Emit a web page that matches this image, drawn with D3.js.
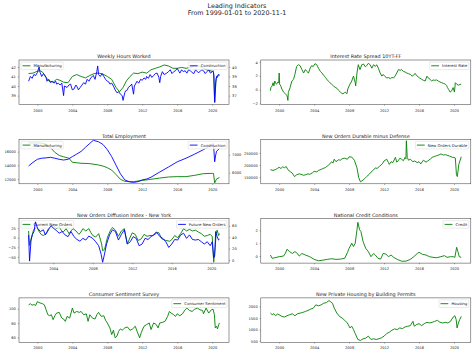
<!DOCTYPE html>
<html>
<head>
<meta charset="utf-8">
<script src="https://cdn.jsdelivr.net/npm/d3@7"></script>
<style>
  body { margin: 0; background: #fff; }
  svg { display: block; font-family: "DejaVu Sans", sans-serif; }
</style>
</head>
<body>
<svg id="chart" width="474" height="353"></svg>
<script>
// ---- data (year, value) ----
const yearTicks = [2000, 2004, 2008, 2012, 2016, 2020];
const yearTicksNY = [2004, 2008, 2012, 2016, 2020];

const hoursMfg = [[1999.0,41.3],[1999.5,41.35],[2000.0,41.55],[2000.3,41.6],[2000.6,41.45],[2000.9,41.0],[2001.3,40.55],[2001.8,40.4],[2002.2,40.7],[2002.6,40.6],[2003.0,40.4],[2003.5,40.35],[2004.0,41.0],[2004.5,41.2],[2005.0,41.0],[2005.5,40.85],[2006.0,41.1],[2006.5,41.3],[2007.0,41.35],[2007.5,41.25],[2008.0,41.0],[2008.5,40.7],[2009.0,39.85],[2009.4,39.4],[2009.8,39.85],[2010.2,40.55],[2010.6,41.0],[2011.0,41.35],[2011.5,41.3],[2012.0,41.45],[2012.5,41.35],[2013.0,41.7],[2013.5,41.85],[2014.0,42.0],[2014.5,42.2],[2015.0,42.1],[2015.5,41.85],[2016.0,41.85],[2016.5,41.95],[2017.0,41.85],[2017.5,41.95],[2018.0,42.1],[2018.5,42.1],[2019.0,41.85],[2019.5,41.65],[2020.0,41.55],[2020.15,41.4],[2020.28,38.3],[2020.45,40.8],[2020.6,41.1],[2020.83,41.2]];

const hoursConstruction = [[1999.0,38.5],[1999.2,39.0],[1999.4,38.8],[1999.6,39.2],[1999.8,39.1],[2000.0,39.4],[2000.2,40.0],[2000.3,39.45],[2000.5,39.0],[2000.7,39.3],[2000.8,39.2],[2001.0,38.9],[2001.1,38.5],[2001.3,38.7],[2001.5,38.35],[2001.7,38.5],[2001.9,38.3],[2002.1,38.5],[2002.2,38.2],[2002.4,38.3],[2002.6,38.1],[2002.8,38.3],[2003.0,37.0],[2003.1,38.0],[2003.4,37.85],[2003.6,38.1],[2003.8,38.2],[2004.0,37.6],[2004.2,37.7],[2004.4,38.1],[2004.5,38.0],[2004.7,37.6],[2004.9,37.85],[2005.1,38.1],[2005.3,38.35],[2005.5,38.2],[2005.7,38.7],[2005.9,38.5],[2006.1,38.85],[2006.3,39.0],[2006.4,39.1],[2006.6,38.7],[2006.8,39.5],[2006.9,40.1],[2007.0,39.2],[2007.2,39.0],[2007.4,39.3],[2007.6,39.0],[2007.8,38.7],[2008.0,38.5],[2008.2,38.4],[2008.3,38.2],[2008.5,38.3],[2008.7,38.0],[2008.9,37.6],[2009.1,37.3],[2009.3,37.4],[2009.5,37.15],[2009.7,37.0],[2009.8,36.5],[2010.0,37.3],[2010.1,37.5],[2010.3,37.6],[2010.4,37.85],[2010.6,38.0],[2010.8,38.2],[2011.0,37.15],[2011.1,38.0],[2011.4,38.5],[2011.6,38.3],[2011.8,38.7],[2012.0,38.6],[2012.2,38.85],[2012.4,38.7],[2012.5,39.0],[2012.7,38.8],[2012.9,39.2],[2013.1,38.9],[2013.3,39.1],[2013.5,39.3],[2013.7,39.35],[2013.9,38.9],[2014.0,38.35],[2014.1,39.0],[2014.3,39.5],[2014.5,39.2],[2014.8,39.35],[2015.0,39.5],[2015.2,39.7],[2015.4,39.3],[2015.6,39.5],[2015.8,39.6],[2016.0,39.85],[2016.2,39.5],[2016.3,39.35],[2016.5,39.7],[2016.7,39.5],[2016.9,39.6],[2017.1,39.35],[2017.3,39.7],[2017.5,39.6],[2017.7,39.4],[2017.9,39.3],[2018.1,39.7],[2018.2,39.6],[2018.4,39.4],[2018.6,39.5],[2018.8,39.7],[2019.0,39.6],[2019.2,39.3],[2019.4,39.5],[2019.6,39.7],[2019.8,39.35],[2020.0,39.5],[2020.1,39.6],[2020.2,39.1],[2020.28,36.3],[2020.4,38.4],[2020.5,39.0],[2020.6,38.9],[2020.7,39.2],[2020.83,39.1]];

const interestSpread = [[1999.0,-0.15],[1999.05,0.3],[1999.2,0.55],[1999.3,1.0],[1999.4,0.55],[1999.5,1.25],[1999.6,0.9],[1999.7,0.8],[1999.85,1.1],[1999.95,1.0],[2000.0,2.4],[2000.05,0.8],[2000.2,0.5],[2000.3,0.1],[2000.5,-0.35],[2000.7,-0.6],[2000.9,-0.85],[2001.0,-1.55],[2001.05,-0.4],[2001.25,0.3],[2001.45,1.25],[2001.65,1.5],[2001.8,2.2],[2002.0,3.35],[2002.2,3.6],[2002.4,3.45],[2002.6,2.9],[2002.8,2.4],[2003.0,2.9],[2003.15,2.65],[2003.35,2.4],[2003.55,3.1],[2003.7,3.45],[2003.9,3.35],[2004.1,3.75],[2004.3,3.6],[2004.5,3.1],[2004.7,2.65],[2004.9,2.4],[2005.1,2.05],[2005.3,1.75],[2005.45,1.5],[2005.65,1.2],[2005.8,1.0],[2006.0,0.8],[2006.2,0.55],[2006.4,0.35],[2006.6,0.2],[2006.8,-0.1],[2007.0,-0.35],[2007.15,-0.5],[2007.3,-0.6],[2007.45,-0.45],[2007.55,-0.35],[2007.75,-0.6],[2007.85,0.1],[2008.1,0.8],[2008.3,1.25],[2008.5,1.95],[2008.7,1.0],[2008.75,0.55],[2008.9,2.4],[2009.05,3.6],[2009.25,2.9],[2009.45,3.6],[2009.65,3.7],[2009.85,3.3],[2010.0,3.45],[2010.2,3.8],[2010.4,3.6],[2010.6,3.1],[2010.8,3.6],[2011.0,3.35],[2011.15,3.6],[2011.35,3.1],[2011.55,2.4],[2011.75,1.95],[2011.9,2.2],[2012.1,1.9],[2012.3,1.7],[2012.5,1.75],[2012.7,1.6],[2012.9,1.75],[2013.1,1.7],[2013.25,1.95],[2013.45,2.4],[2013.65,2.9],[2013.85,2.8],[2014.0,2.9],[2014.2,2.65],[2014.4,2.55],[2014.6,2.4],[2014.8,2.3],[2015.0,2.2],[2015.2,1.95],[2015.35,2.05],[2015.55,2.35],[2015.75,2.0],[2015.9,1.85],[2016.1,1.65],[2016.3,1.5],[2016.5,1.35],[2016.7,1.25],[2016.9,1.95],[2017.05,1.7],[2017.25,1.5],[2017.45,1.25],[2017.6,1.4],[2017.8,1.35],[2018.0,1.4],[2018.2,1.25],[2018.4,1.1],[2018.6,1.0],[2018.8,0.9],[2019.0,0.8],[2019.15,0.6],[2019.25,0.3],[2019.4,0.0],[2019.55,-0.35],[2019.75,-0.15],[2019.9,0.3],[2020.05,-0.35],[2020.15,1.0],[2020.3,0.8],[2020.5,0.65],[2020.7,0.75],[2020.83,0.8]];

const employmentMfg = [[1999.0,17300],[1999.5,17280],[2000.0,17280],[2000.5,17250],[2001.0,17100],[2001.5,16600],[2002.0,15900],[2002.5,15450],[2003.0,15250],[2003.6,15050],[2004.0,14450],[2005.0,14300],[2006.0,14250],[2007.0,14050],[2007.5,13900],[2008.0,13650],[2008.5,13300],[2009.0,12650],[2009.5,11950],[2010.0,11650],[2010.5,11600],[2011.0,11600],[2012.0,11780],[2013.0,11950],[2014.0,12130],[2015.0,12290],[2016.0,12340],[2017.0,12340],[2018.0,12530],[2019.0,12780],[2020.0,12820],[2020.15,12800],[2020.28,11420],[2020.5,12000],[2020.83,12200]];

const employmentConstruction = [[1999.0,6380],[1999.5,6580],[2000.0,6750],[2000.5,6810],[2001.0,6830],[2001.5,6860],[2002.0,6810],[2002.5,6750],[2003.0,6710],[2003.5,6750],[2004.0,6900],[2004.5,7040],[2005.0,7190],[2005.5,7420],[2006.0,7640],[2006.4,7810],[2007.0,7730],[2007.5,7580],[2008.0,7290],[2008.5,6900],[2009.0,6420],[2009.5,5940],[2010.0,5600],[2010.5,5500],[2011.0,5460],[2011.5,5500],[2012.0,5600],[2012.5,5650],[2013.0,5750],[2014.0,6040],[2015.0,6320],[2016.0,6610],[2017.0,6810],[2018.0,7040],[2019.0,7290],[2020.0,7580],[2020.15,7620],[2020.28,6610],[2020.4,7000],[2020.5,7200],[2020.83,7350]];

const durableOrders = [[1999.0,181000],[1999.3,178000],[1999.6,182000],[1999.8,186000],[2000.0,191000],[2000.2,186000],[2000.4,193000],[2000.6,189000],[2000.8,194000],[2001.0,181000],[2001.3,172000],[2001.5,167000],[2001.75,152600],[2002.0,160000],[2002.3,164000],[2002.5,162000],[2002.8,158000],[2003.0,160000],[2003.3,164000],[2003.5,162000],[2003.8,168000],[2004.0,174000],[2004.3,172000],[2004.5,178000],[2004.8,182000],[2005.0,185600],[2005.3,190000],[2005.5,195500],[2005.8,205000],[2006.0,214000],[2006.15,208000],[2006.3,224000],[2006.5,214000],[2006.8,222000],[2007.0,220000],[2007.2,226000],[2007.5,228500],[2007.8,224000],[2008.0,234000],[2008.3,233000],[2008.6,220000],[2008.9,188600],[2009.1,148500],[2009.3,131000],[2009.6,138400],[2009.8,145000],[2010.0,152600],[2010.3,162000],[2010.5,171000],[2010.8,180000],[2011.0,188600],[2011.2,186000],[2011.5,195500],[2011.8,205000],[2012.0,217000],[2012.3,224000],[2012.5,210000],[2012.6,202800],[2012.8,214000],[2013.0,210000],[2013.3,231500],[2013.45,212000],[2013.6,217000],[2013.8,228000],[2014.0,224000],[2014.2,218000],[2014.4,231500],[2014.5,226000],[2014.55,300000],[2014.65,231500],[2014.8,220000],[2015.0,224000],[2015.3,214000],[2015.5,217000],[2015.8,210000],[2016.0,214000],[2016.2,205000],[2016.5,220000],[2016.8,212000],[2017.0,217000],[2017.3,225000],[2017.5,231500],[2017.8,236000],[2018.0,238600],[2018.3,242000],[2018.5,245700],[2018.8,241000],[2019.0,243000],[2019.3,239000],[2019.5,237000],[2019.8,232000],[2020.0,231500],[2020.15,229000],[2020.28,160000],[2020.38,152600],[2020.55,203000],[2020.83,234000]];

const nyCurrent = [[2001.5,18],[2001.6,-20],[2001.8,2],[2002.0,20],[2002.3,29],[2002.6,15],[2002.8,8],[2003.0,6],[2003.3,11],[2003.6,24],[2003.8,30],[2004.0,33],[2004.3,24],[2004.6,29],[2004.8,20],[2005.0,15],[2005.3,24],[2005.6,11],[2005.8,18],[2006.0,24],[2006.3,18],[2006.6,9],[2006.8,15],[2007.0,24],[2007.3,18],[2007.6,24],[2007.8,14],[2008.0,6],[2008.3,2],[2008.6,11],[2008.9,-16],[2009.0,-34],[2009.2,-30],[2009.5,2],[2009.8,20],[2010.0,27],[2010.3,20],[2010.6,4],[2010.9,18],[2011.2,24],[2011.5,-16],[2011.8,2],[2012.0,13],[2012.3,9],[2012.6,-7],[2012.9,-3],[2013.2,9],[2013.5,4],[2013.8,6],[2014.1,6],[2014.4,15],[2014.7,13],[2015.0,-3],[2015.4,-7],[2015.8,-9],[2016.0,-5],[2016.3,6],[2016.6,0],[2016.9,11],[2017.2,24],[2017.5,18],[2017.8,22],[2018.1,18],[2018.4,20],[2018.7,15],[2019.0,11],[2019.3,4],[2019.6,6],[2019.9,9],[2020.1,4],[2020.25,-64],[2020.4,-25],[2020.5,11],[2020.6,20],[2020.75,6],[2020.83,11]];

const nyFuture = [[2001.5,44],[2001.6,-2],[2001.75,35],[2001.9,45],[2002.05,50],[2002.2,67],[2002.4,56],[2002.7,50],[2003.0,53],[2003.2,44],[2003.5,54],[2003.8,60],[2004.0,56],[2004.3,52],[2004.6,47],[2004.9,50],[2005.2,44],[2005.5,41],[2005.8,50],[2006.1,41],[2006.4,36],[2006.7,33],[2007.0,38],[2007.3,35],[2007.6,42],[2008.0,38],[2008.3,32],[2008.6,25],[2008.85,10],[2009.0,-4],[2009.15,7],[2009.4,28],[2009.7,44],[2010.0,53],[2010.3,50],[2010.6,35],[2010.9,45],[2011.2,53],[2011.5,28],[2011.8,32],[2012.1,41],[2012.4,38],[2012.7,25],[2013.0,28],[2013.3,38],[2013.6,36],[2013.9,41],[2014.2,44],[2014.5,48],[2014.8,41],[2015.1,38],[2015.4,32],[2015.7,22],[2016.0,28],[2016.3,36],[2016.6,35],[2016.9,44],[2017.2,47],[2017.5,38],[2017.8,44],[2018.1,36],[2018.4,35],[2018.7,36],[2019.0,32],[2019.3,28],[2019.6,32],[2019.9,25],[2020.1,32],[2020.25,4],[2020.35,7],[2020.45,50],[2020.6,41],[2020.75,35],[2020.83,36]];

const creditConditions = [[1999.0,0.08],[1999.2,-0.18],[1999.5,-0.13],[2000.0,-0.05],[2000.5,0.0],[2000.7,0.2],[2000.9,0.53],[2001.2,0.34],[2001.5,0.2],[2001.8,0.34],[2002.0,0.26],[2002.3,0.0],[2002.6,0.2],[2003.0,0.08],[2003.5,-0.05],[2004.0,-0.26],[2004.5,-0.37],[2005.0,-0.32],[2005.5,-0.26],[2006.0,-0.21],[2006.5,-0.26],[2007.0,-0.24],[2007.5,-0.18],[2007.8,0.26],[2008.0,0.6],[2008.3,1.0],[2008.5,0.74],[2008.7,1.0],[2008.9,2.05],[2009.0,2.63],[2009.2,2.05],[2009.35,1.92],[2009.6,1.13],[2009.9,0.6],[2010.2,0.34],[2010.5,-0.05],[2010.8,0.2],[2011.0,0.08],[2011.3,-0.18],[2011.6,-0.24],[2011.9,0.2],[2012.2,0.16],[2012.5,-0.05],[2012.8,0.08],[2013.1,-0.1],[2013.5,-0.26],[2014.0,-0.4],[2014.5,-0.4],[2015.0,-0.26],[2015.4,-0.05],[2015.8,0.2],[2016.0,0.29],[2016.4,0.13],[2016.8,0.08],[2017.2,-0.05],[2017.6,-0.1],[2018.0,-0.13],[2018.5,-0.05],[2018.9,0.03],[2019.2,-0.1],[2019.6,-0.05],[2019.9,-0.05],[2020.1,-0.1],[2020.3,0.68],[2020.45,0.34],[2020.6,-0.05],[2020.83,-0.1]];

const consumerSentiment = [[1999.0,105.5],[1999.2,107],[1999.4,105],[1999.6,106],[1999.8,104.6],[2000.0,110],[2000.2,108.7],[2000.4,107.8],[2000.6,107],[2000.8,105.5],[2001.0,98.6],[2001.2,91.7],[2001.4,90.3],[2001.6,91.7],[2001.8,84.8],[2002.0,90.3],[2002.2,94],[2002.5,95],[2002.8,87],[2003.0,85.7],[2003.2,82.5],[2003.4,89.4],[2003.7,87],[2004.0,101],[2004.2,94],[2004.5,96.3],[2004.8,95],[2005.0,96.3],[2005.3,91.7],[2005.6,93],[2005.8,82.5],[2006.0,91.7],[2006.3,87],[2006.6,85.7],[2006.8,91.7],[2007.0,95],[2007.3,89.4],[2007.6,90.3],[2007.8,84],[2008.0,80.2],[2008.3,73.3],[2008.5,64],[2008.7,70],[2008.9,59.5],[2009.1,61.8],[2009.3,68.7],[2009.5,72],[2009.7,70],[2010.0,73.3],[2010.3,74.7],[2010.6,70],[2010.9,72],[2011.2,75.6],[2011.4,68.7],[2011.7,59.5],[2011.9,67.3],[2012.2,75.6],[2012.5,78],[2012.8,80.2],[2013.0,71],[2013.3,80.2],[2013.6,78],[2013.8,73.3],[2014.0,80.2],[2014.3,81],[2014.6,82.5],[2014.9,89.4],[2015.1,96.3],[2015.3,94],[2015.6,91.7],[2015.8,89.4],[2016.0,93],[2016.3,90.3],[2016.6,93],[2016.9,98.6],[2017.1,101],[2017.4,97.7],[2017.7,96.3],[2018.0,99.5],[2018.3,101],[2018.6,98.6],[2018.9,97.7],[2019.0,93],[2019.3,101],[2019.6,94],[2019.9,98.6],[2020.1,99.5],[2020.25,91.7],[2020.35,73.3],[2020.5,75.6],[2020.6,72],[2020.75,78],[2020.83,80.2]];

const housingPermits = [[1999.0,1714],[1999.2,1643],[1999.4,1686],[1999.6,1600],[1999.8,1671],[2000.0,1643],[2000.3,1571],[2000.6,1543],[2000.9,1600],[2001.2,1643],[2001.5,1686],[2001.8,1600],[2002.1,1686],[2002.4,1714],[2002.7,1743],[2003.0,1786],[2003.3,1829],[2003.6,1886],[2003.9,1929],[2004.2,2071],[2004.5,2029],[2004.8,2071],[2005.1,2143],[2005.4,2171],[2005.7,2257],[2005.9,2200],[2006.1,2143],[2006.3,1929],[2006.6,1714],[2006.9,1571],[2007.2,1500],[2007.5,1400],[2007.8,1286],[2008.1,1071],[2008.3,1143],[2008.5,1000],[2008.7,829],[2009.0,571],[2009.3,529],[2009.6,600],[2009.9,629],[2010.2,714],[2010.5,571],[2010.8,600],[2011.1,571],[2011.4,600],[2011.7,643],[2012.0,714],[2012.3,829],[2012.6,886],[2012.9,971],[2013.2,1029],[2013.5,1000],[2013.8,1071],[2014.1,1043],[2014.4,1114],[2014.7,1143],[2015.0,1171],[2015.3,1357],[2015.45,1143],[2015.7,1214],[2016.0,1257],[2016.3,1171],[2016.6,1257],[2016.9,1314],[2017.2,1286],[2017.5,1314],[2017.8,1357],[2018.1,1400],[2018.4,1314],[2018.7,1286],[2019.0,1314],[2019.3,1286],[2019.6,1357],[2019.9,1543],[2020.1,1600],[2020.25,1429],[2020.35,1071],[2020.5,1286],[2020.65,1429],[2020.83,1571]];

// ---- layout ----
const svg = d3.select("#chart");
const boxW = 210, boxH = 44.5;
const colX = [19, 260.8];
const rowY = [60, 139.3, 218.6, 297.9];
const fullYears = [1997.9, 2021.92];
const green = "#008000", blue = "#0000ff";

svg.append("text").attr("x", 237).attr("y", 8).attr("text-anchor", "middle")
   .attr("font-size", 6.4).attr("fill", "#222").text("Leading Indicators");
svg.append("text").attr("x", 237).attr("y", 15.4).attr("text-anchor", "middle")
   .attr("font-size", 6.4).attr("fill", "#222").text("From 1999-01-01 to 2020-11-1");

const panels = [
  { title: "Weekly Hours Worked", col: 0, row: 0, xDomain: fullYears, xTicks: yearTicks,
    left: { data: hoursMfg, domain: [38.07, 42.72], ticks: [39, 40, 41, 42], label: "Manufacturing" },
    right: { data: hoursConstruction, domain: [36.07, 40.72], ticks: [37, 38, 39, 40], label: "Construction" } },
  { title: "Interest Rate Spread 10YT-FF", col: 1, row: 0, xDomain: fullYears, xTicks: yearTicks,
    left: { data: interestSpread, domain: [-2.14, 4.28], ticks: [-2, 0, 2, 4], label: "Interest Rate", legendRight: true } },
  { title: "Total Employment", col: 0, row: 1, xDomain: fullYears, xTicks: yearTicks,
    left: { data: employmentMfg, domain: [11288, 17818], ticks: [12000, 14000, 16000], label: "Manufacturing" },
    right: { data: employmentConstruction, domain: [5382, 7867], ticks: [6000, 7000], label: "Construction" } },
  { title: "New Orders Durable minus Defense", col: 1, row: 1, xDomain: fullYears, xTicks: yearTicks,
    left: { data: durableOrders, domain: [123000, 306000], ticks: [150000, 200000, 250000], label: "New Orders Durable", legendRight: true } },
  { title: "New Orders Diffusion Index - New York", col: 0, row: 2, xDomain: [2000.53, 2021.8], xTicks: yearTicksNY,
    left: { data: nyCurrent, domain: [-66.3, 50.3], ticks: [-50, -25, 0, 25], label: "Current New Orders" },
    right: { data: nyFuture, domain: [-5.5, 72.7], ticks: [0, 20, 40, 60], label: "Future New Orders" } },
  { title: "National Credit Conditions", col: 1, row: 2, xDomain: fullYears, xTicks: yearTicks,
    left: { data: creditConditions, domain: [-0.55, 2.92], ticks: [0, 1, 2], label: "Credit", legendRight: true } },
  { title: "Consumer Sentiment Survey", col: 0, row: 3, xDomain: fullYears, xTicks: yearTicks,
    left: { data: consumerSentiment, domain: [53.1, 115.2], ticks: [60, 80, 100], label: "Consumer Sentiment", legendRight: true } },
  { title: "New Private Housing by Building Permits", col: 1, row: 3, xDomain: fullYears, xTicks: yearTicks,
    left: { data: housingPermits, domain: [444, 2373], ticks: [500, 1000, 1500, 2000], label: "Housing", legendRight: true } }
];

function styleAxis(g) {
  g.select(".domain").remove();
  g.selectAll(".tick line").attr("stroke", "#333").attr("stroke-width", 0.4);
  g.selectAll(".tick text").attr("font-size", 3.6).attr("fill", "#222")
   .attr("font-family", "DejaVu Sans, sans-serif");
}

function drawLegend(g, x0, y0, label, color, onRight) {
  const fs = 3.9, pad = 1.56, hl = 7.8, htp = 3.1, h = 7.6;
  const lg = g.append("g");
  const frame = lg.append("rect");
  const t = lg.append("text").attr("font-size", fs).text(label);
  const tw = t.node().getComputedTextLength();
  const w = pad * 2 + hl + htp + tw;
  const lx = onRight ? x0 + boxW - 2 - w : x0 + 2;
  const ly = y0 + 2;
  frame.attr("x", lx).attr("y", ly).attr("width", w).attr("height", h).attr("rx", 0.8)
       .attr("fill", "#fff").attr("fill-opacity", 0.8).attr("stroke", "#ccc").attr("stroke-width", 0.4);
  lg.append("line").attr("x1", lx + pad).attr("x2", lx + pad + hl)
    .attr("y1", ly + h / 2).attr("y2", ly + h / 2)
    .attr("stroke", color).attr("stroke-width", 0.9);
  t.attr("x", lx + pad + hl + htp).attr("y", ly + h / 2 + fs * 0.36).attr("fill", "#222");
}

panels.forEach((p, i) => {
  const x0 = colX[p.col], y0 = rowY[p.row];
  const g = svg.append("g");
  const x = d3.scaleLinear().domain(p.xDomain).range([x0, x0 + boxW]);

  g.append("clipPath").attr("id", "clip" + i).append("rect")
    .attr("x", x0).attr("y", y0).attr("width", boxW).attr("height", boxH);

  // title
  g.append("text").attr("x", x0 + boxW / 2).attr("y", y0 - 1.7).attr("text-anchor", "middle")
    .attr("font-size", 4.9).attr("fill", "#222").text(p.title);

  // x axis
  g.append("g").attr("transform", `translate(0,${y0 + boxH})`)
    .call(d3.axisBottom(x).tickValues(p.xTicks).tickFormat(d3.format("d")).tickSize(1.2).tickPadding(3.3))
    .call(styleAxis);

  // left series
  const yL = d3.scaleLinear().domain(p.left.domain).range([y0 + boxH, y0]);
  g.append("g").attr("transform", `translate(${x0},0)`)
    .call(d3.axisLeft(yL).tickValues(p.left.ticks).tickFormat(d3.format("d")).tickSize(1.2).tickPadding(1.9))
    .call(styleAxis);
  g.append("path").datum(p.left.data)
    .attr("clip-path", `url(#clip${i})`)
    .attr("d", d3.line().x(d => x(d[0])).y(d => yL(d[1])))
    .attr("fill", "none").attr("stroke", green).attr("stroke-width", 0.9).attr("stroke-linejoin", "round");
  drawLegend(g, x0, y0, p.left.label, green, !!p.left.legendRight);

  // right (twin) series
  if (p.right) {
    const yR = d3.scaleLinear().domain(p.right.domain).range([y0 + boxH, y0]);
    g.append("g").attr("transform", `translate(${x0 + boxW},0)`)
      .call(d3.axisRight(yR).tickValues(p.right.ticks).tickFormat(d3.format("d")).tickSize(1.2).tickPadding(1.9))
      .call(styleAxis);
    g.append("path").datum(p.right.data)
      .attr("clip-path", `url(#clip${i})`)
      .attr("d", d3.line().x(d => x(d[0])).y(d => yR(d[1])))
      .attr("fill", "none").attr("stroke", blue).attr("stroke-width", 0.9).attr("stroke-linejoin", "round");
    drawLegend(g, x0, y0, p.right.label, blue, true);
  }

  // frame
  g.append("rect").attr("x", x0).attr("y", y0).attr("width", boxW).attr("height", boxH)
    .attr("fill", "none").attr("stroke", "#333").attr("stroke-width", 0.5);
});
</script>
</body>
</html>
